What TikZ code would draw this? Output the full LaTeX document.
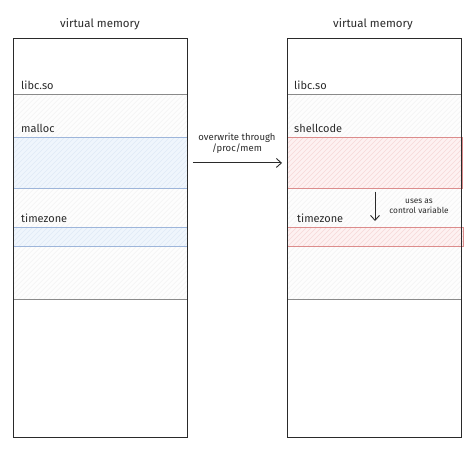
\documentclass[tikz,border=0pt]{standalone}
\usepackage{fontspec}
\setmainfont{Fira Sans}
\usetikzlibrary{arrows.meta,calc}
\definecolor{ink}{HTML}{2A2A2A}
\definecolor{grayline}{HTML}{8A8A8A}
\definecolor{grayfill}{HTML}{FDFDFD}
\definecolor{grayhatch}{HTML}{F3F3F3}
\definecolor{blueline}{HTML}{9DB5DA}
\definecolor{bluefill}{HTML}{EFF5FC}
\definecolor{bluehatch}{HTML}{E0EAF7}
\definecolor{redline}{HTML}{DC8C8C}
\definecolor{redfill}{HTML}{FDF1F1}
\definecolor{redhatch}{HTML}{F6D8D8}
\tikzset{
  hatch/.style={path picture={
    \foreach \k in {0,...,80}{
      \draw[#1,line width=0.5pt]
        ($(path picture bounding box.south west)+(\k*5pt-220pt,0pt)$) -- ++(230pt,230pt);
    }}},
  box/.style={draw=ink,line width=0.9pt,inner sep=0pt,anchor=north west},
  grayregion/.style={draw=grayline,fill=grayfill,hatch=grayhatch,line width=0.8pt,inner sep=0pt,anchor=north west},
  blueband/.style={draw=blueline,fill=bluefill,hatch=bluehatch,line width=0.9pt,inner sep=0pt,anchor=north west},
  redband/.style={draw=redline,fill=redfill,hatch=redhatch,line width=0.9pt,inner sep=0pt,anchor=north west},
  title/.style={font=\fontsize{11.5}{13}\selectfont,text=ink,inner sep=0pt},
  lbl/.style={font=\fontsize{11}{12}\selectfont,text=ink,inner sep=0pt,anchor=south west},
  note/.style={font=\fontsize{9.5}{11}\selectfont,text=ink,inner sep=0pt,align=center},
  small/.style={font=\fontsize{8.3}{10}\selectfont,text=ink,inner sep=0pt,align=center},
  arr/.style={draw=ink,line width=0.9pt,-{Straight Barb[length=5pt,width=9pt]}}
}
\begin{document}
\begin{tikzpicture}[x=1pt,y=-1pt]
\useasboundingbox[fill=white] (0,0) rectangle (474,449);
% left column
\node[box,minimum width=174pt,minimum height=399pt] (Lbox) at (13,38) {};
\node[grayregion,minimum width=174pt,minimum height=205pt] (Lgray) at (13,94) {};
\node[blueband,minimum width=174pt,minimum height=51pt] (Lmal) at (13,137) {};
\node[blueband,minimum width=174pt,minimum height=19pt] (Ltz) at (13,227) {};
\draw[ink,line width=0.9pt] (Lbox.north west) rectangle (Lbox.south east);
\node[title] (Ltitle) at (100,24) {virtual memory};
\node[lbl] (Llibc) at (21,90) {libc.so};
\node[lbl] (Lmalloc) at (21,133) {malloc};
\node[lbl] (Ltzl) at (21,223) {timezone};
% right column
\node[box,minimum width=174pt,minimum height=399pt] (Rbox) at (287,38) {};
\node[grayregion,minimum width=174pt,minimum height=205pt] (Rgray) at (287,94) {};
\node[redband,minimum width=175pt,minimum height=51pt] (Rsh) at (287,137) {};
\node[redband,minimum width=176pt,minimum height=19pt] (Rtz) at (287,227) {};
\draw[ink,line width=0.9pt] (Rbox.north west) rectangle (Rbox.south east);
\node[title] (Rtitle) at (373,24) {virtual memory};
\node[lbl] (Rlibc) at (294,90) {libc.so};
\node[lbl] (Rshl) at (294,133) {shellcode};
\node[lbl] (Rtzl) at (297,223) {timezone};
% arrows
\draw[arr] ([xshift=5pt]Lmal.east) -- ([xshift=-5pt]Rsh.west);
\node[note] (ovw) at (237,143.5) {overwrite through\\/proc/mem};
\coordinate (d1) at (375,192);
\coordinate (d2) at (375,221);
\draw[arr] (d1) -- (d2);
\node[small] (uses) at (419,206) {uses as\\control variable};
\end{tikzpicture}
\end{document}
